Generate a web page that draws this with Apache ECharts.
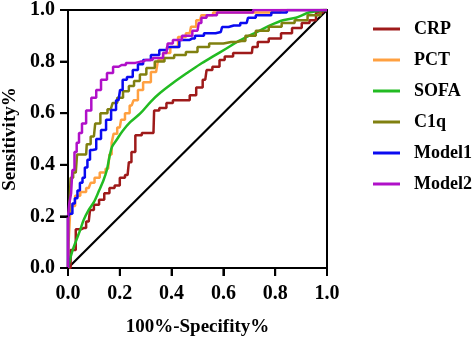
<!DOCTYPE html>
<html><head><meta charset="utf-8">
<script src="https://cdn.jsdelivr.net/npm/echarts@6/dist/echarts.min.js"></script>
<style>html,body{margin:0;padding:0;background:#fff}#c{width:474px;height:338px}</style>
</head><body><div id="c"></div>
<script>
const seriesNames = ['CRP','PCT','SOFA','C1q','Model1','Model2'];
const xTicks = [0, 0.2, 0.4, 0.6, 0.8, 1.0];
const yTicks = [0, 0.2, 0.4, 0.6, 0.8, 1.0];

const crp = [[0,0],[0.02,0.07],[0.04,0.15],[0.06,0.155],[0.08,0.18],[0.09,0.225],[0.11,0.245],[0.13,0.265],[0.15,0.29],[0.17,0.31],[0.19,0.32],[0.21,0.35],[0.23,0.36],[0.24,0.41],[0.25,0.45],[0.27,0.515],[0.3,0.523],[0.33,0.523],[0.335,0.61],[0.37,0.62],[0.39,0.64],[0.42,0.65],[0.46,0.65],[0.48,0.67],[0.51,0.70],[0.53,0.73],[0.54,0.767],[0.575,0.78],[0.595,0.806],[0.615,0.82],[0.66,0.833],[0.71,0.833],[0.715,0.857],[0.75,0.876],[0.8,0.89],[0.845,0.91],[0.885,0.93],[0.92,0.95],[0.945,0.96],[0.97,0.99],[1,1]];
const pct = [[0,0],[0.005,0.1],[0.01,0.2],[0.02,0.24],[0.035,0.28],[0.06,0.295],[0.08,0.31],[0.095,0.33],[0.11,0.35],[0.135,0.37],[0.155,0.385],[0.165,0.44],[0.172,0.485],[0.18,0.52],[0.2,0.545],[0.21,0.575],[0.23,0.6],[0.246,0.63],[0.26,0.65],[0.28,0.69],[0.3,0.72],[0.34,0.76],[0.355,0.805],[0.38,0.833],[0.41,0.857],[0.44,0.895],[0.47,0.91],[0.48,0.935],[0.51,0.96],[0.52,0.98],[0.6,0.99],[0.78,0.99],[0.86,1],[1,1]];
const sofa = [[0,0],[0.015,0.06],[0.033,0.11],[0.048,0.15],[0.06,0.185],[0.08,0.225],[0.1,0.255],[0.12,0.3],[0.137,0.34],[0.15,0.38],[0.16,0.43],[0.17,0.47],[0.19,0.5],[0.21,0.53],[0.24,0.565],[0.28,0.6],[0.32,0.645],[0.355,0.678],[0.405,0.717],[0.46,0.756],[0.51,0.79],[0.56,0.82],[0.61,0.85],[0.66,0.88],[0.73,0.915],[0.78,0.94],[0.83,0.96],[0.88,0.97],[0.93,0.99],[1,1]];
const c1q = [[0,0],[0,0.2],[0.01,0.22],[0.01,0.35],[0.03,0.37],[0.04,0.44],[0.07,0.44],[0.075,0.48],[0.1,0.51],[0.11,0.56],[0.14,0.6],[0.165,0.615],[0.18,0.64],[0.2,0.66],[0.225,0.685],[0.245,0.705],[0.265,0.725],[0.29,0.75],[0.315,0.775],[0.355,0.8],[0.39,0.814],[0.43,0.826],[0.48,0.837],[0.52,0.857],[0.57,0.87],[0.63,0.876],[0.67,0.88],[0.7,0.9],[0.75,0.92],[0.8,0.935],[0.85,0.95],[0.9,0.96],[0.95,0.98],[1,1]];
const model1 = [[0,0],[0,0.2],[0.014,0.21],[0.02,0.25],[0.033,0.27],[0.04,0.3],[0.052,0.33],[0.06,0.35],[0.07,0.39],[0.08,0.42],[0.09,0.457],[0.1,0.46],[0.118,0.5],[0.137,0.535],[0.157,0.575],[0.176,0.612],[0.195,0.65],[0.207,0.69],[0.215,0.73],[0.24,0.74],[0.26,0.767],[0.28,0.79],[0.3,0.806],[0.34,0.826],[0.365,0.845],[0.4,0.857],[0.46,0.884],[0.48,0.89],[0.5,0.9],[0.55,0.91],[0.59,0.915],[0.6,0.934],[0.64,0.94],[0.69,0.95],[0.7,0.97],[0.75,0.98],[0.82,0.99],[0.87,1],[1,1]];
const model2 = [[0,0],[0,0.2],[0.01,0.25],[0.014,0.29],[0.02,0.38],[0.03,0.45],[0.037,0.485],[0.048,0.523],[0.06,0.56],[0.08,0.61],[0.1,0.66],[0.118,0.69],[0.137,0.73],[0.164,0.756],[0.184,0.78],[0.207,0.787],[0.24,0.795],[0.28,0.8],[0.3,0.806],[0.354,0.814],[0.38,0.833],[0.39,0.87],[0.42,0.884],[0.46,0.9],[0.5,0.92],[0.51,0.95],[0.52,0.97],[0.55,0.98],[0.6,0.99],[0.83,1],[1,1]];
const reference = [[0,0],[1,1]];

const colors = ['#9e1a1a','#ffa040','#22bb22','#808010','#0a0af0','#b010c8'];
const dataList = [crp, pct, sofa, c1q, model1, model2];
const stepped = [true, true, false, true, true, true];

const font = '"Liberation Serif", "Times New Roman", serif';
const chart = echarts.init(document.getElementById('c'), null, {renderer:'canvas'});
const series = [{
  name: 'ref', type: 'line', data: reference, symbol: 'none', silent: true,
  lineStyle: {color: '#000', width: 2.2}, z: 1
}];
seriesNames.forEach((n, i) => {
  series.push({
    name: n, type: 'line', data: dataList[i], symbol: 'none',
    step: stepped[i] ? 'middle' : false, smooth: !stepped[i] ? 0.3 : false,
    lineStyle: {color: colors[i], width: 2.5}, itemStyle: {color: colors[i]}, z: 2 + i
  });
});
function makeAxis(name, gap, margin) {
  return {
    type: 'value', min: 0, max: 1, interval: 0.2,
    name: name, nameLocation: 'middle', nameGap: gap,
    nameTextStyle: {fontFamily: font, fontWeight: 'bold', fontSize: 19, color: '#000'},
    axisLine: {show: true, onZero: false, lineStyle: {color: '#000', width: 2}},
    axisTick: {show: true, length: 8, lineStyle: {color: '#000', width: 2}},
    axisLabel: {fontFamily: font, fontWeight: 'bold', fontSize: 20, color: '#000', margin: margin,
      formatter: v => v.toFixed(1)},
    splitLine: {show: false}
  };
}
function borderAxis(pos) {
  return {
    type: 'value', min: 0, max: 1, position: pos,
    axisLine: {show: true, onZero: false, lineStyle: {color: '#000', width: 2}},
    axisTick: {show: false}, axisLabel: {show: false}, splitLine: {show: false}
  };
}
chart.setOption({
  animation: false,
  grid: {left: 68, top: 10, right: 147, bottom: 70, outerBoundsMode: 'none'},
  legend: {
    data: seriesNames, orient: 'vertical', left: 368, top: 14,
    icon: 'rect', itemWidth: 27, itemHeight: 3, itemGap: 11,
    textStyle: {fontFamily: font, fontWeight: 'bold', fontSize: 18, color: '#000', padding: [0,0,0,9], lineHeight: 20}
  },
  xAxis: [makeAxis('100%-Specifity%', 50, 16), borderAxis('top')],
  yAxis: [makeAxis('Sensitivity%', 48, 13), borderAxis('right')],
  series: series
});
// Tick marks placed through the library's own axis scales
const x0 = chart.convertToPixel({xAxisIndex: 0}, 0);
const y0 = chart.convertToPixel({yAxisIndex: 0}, 0);
const tickLen = 8;
const tickStyle = {stroke: '#000', lineWidth: 2};
const tickEls = [];
xTicks.forEach(v => {
  const px = chart.convertToPixel({xAxisIndex: 0}, v);
  tickEls.push({type: 'line', silent: true, z: 50, shape: {x1: px, y1: y0, x2: px, y2: y0 + tickLen}, style: tickStyle});
});
yTicks.forEach(v => {
  const py = chart.convertToPixel({yAxisIndex: 0}, v);
  tickEls.push({type: 'line', silent: true, z: 50, shape: {x1: x0, y1: py, x2: x0 - tickLen, y2: py}, style: tickStyle});
});
chart.setOption({graphic: tickEls});
</script></body></html>
